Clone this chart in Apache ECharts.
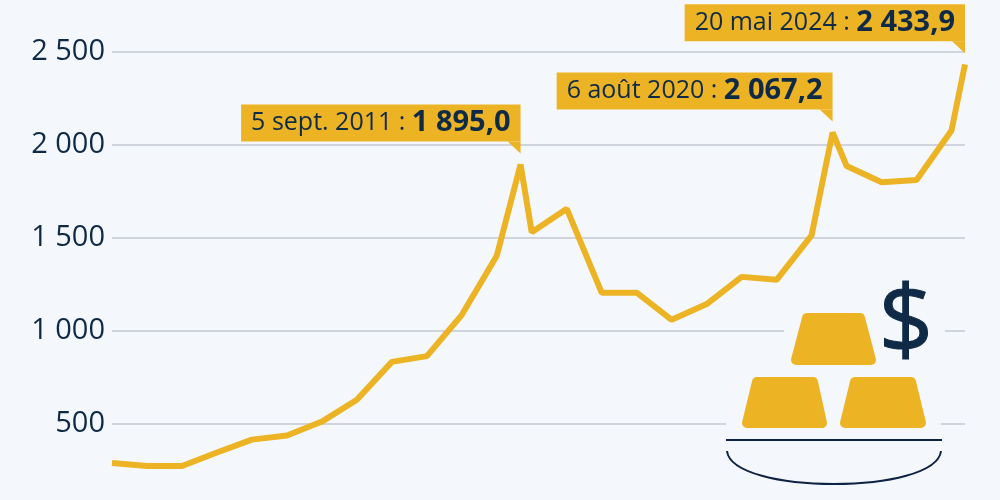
<!DOCTYPE html>
<html><head><meta charset="utf-8">
<style>html,body{margin:0;padding:0;background:#f4f8fc}#c{width:1000px;height:500px}</style>
<script src="https://cdn.jsdelivr.net/npm/echarts@6/dist/echarts.min.js"></script>
</head><body><div id="c"></div>
<script>
const dates = ['1999-12-31','2000-12-31','2001-12-31','2002-12-31','2003-12-31','2004-12-31','2005-12-31','2006-12-31','2007-12-31','2008-12-31','2009-12-31','2010-12-31','2011-09-05','2011-12-31','2012-12-31','2013-12-31','2014-12-31','2015-12-31','2016-12-31','2017-12-31','2018-12-31','2019-12-31','2020-08-06','2020-12-31','2021-12-31','2022-12-31','2023-12-31','2024-05-20'];
const prices = [290,274,274,347,416,438,513,630,834,865,1087,1405,1895,1531,1657,1205,1206,1060,1145,1291,1275,1514,2067.2,1887,1800,1812,2078,2433.9];
const calloutDates = ['2011-09-05','2020-08-06','2024-05-20'];
const calloutPrices = [1895,2067.2,2433.9];
const calloutLabels = ['5 sept. 2011 : ','6 août 2020 : ','20 mai 2024 : '];
const calloutValues = ['1 895,0','2 067,2','2 433,9'];

const FONT='"Open Sans"', NAVY='#0f2a47', GOLD='#ecb424', BG='#f4f8fc';
const bar=(pts)=>({type:'polygon',z:20,shape:{points:pts},style:{fill:GOLD,stroke:GOLD,lineWidth:10,lineJoin:'round'}});
const chart=echarts.init(document.getElementById('c'),null,{renderer:'canvas'});
chart.setOption({
  animation:false,
  backgroundColor:BG,
  grid:{left:112,width:853,top:52,height:465,containLabel:false,outerBoundsMode:'none'},
  xAxis:{type:'time',min:dates[0],max:dates[dates.length-1],show:false},
  yAxis:{type:'value',min:0,max:2500,interval:500,
    axisLine:{show:false},axisTick:{show:false},
    axisLabel:{margin:7,fontFamily:FONT,fontSize:29,color:NAVY,padding:[3,0,0,0],
      formatter:v=>v===0?'':String(v).replace(/\B(?=(\d{3})+$)/g,' ')},
    splitLine:{show:true,lineStyle:{color:'#c4cad3',width:1.5}}},
  series:[
    {type:'line',data:dates.map((d,i)=>[d,prices[i]]),showSymbol:false,symbol:'none',clip:false,z:5,
      lineStyle:{color:GOLD,width:6,join:'bevel',cap:'butt'}},
    {type:'custom',z:10,clip:false,silent:true,
      data:calloutDates.map((d,i)=>[d,calloutPrices[i],i]),
      encode:{x:0,y:1},
      renderItem(params,api){
        const p=api.coord([api.value(0),api.value(1)]);
        const i=params.dataIndex;
        const tipY=p[1]-11, boxBottom=tipY-12;
        return {type:'group',children:[
          {type:'polygon',shape:{points:[[p[0],tipY],[p[0],boxBottom],[p[0]-13,boxBottom]]},style:{fill:GOLD}},
          {type:'text',x:p[0],y:boxBottom,style:{
            text:'{a|'+calloutLabels[i]+'}{b|'+calloutValues[i]+'}',
            align:'right',verticalAlign:'bottom',
            backgroundColor:GOLD,padding:[2,10,2,10],
            rich:{a:{fontFamily:FONT,fontSize:25,fill:NAVY,lineHeight:33},
                  b:{fontFamily:FONT,fontSize:29,fontWeight:'bold',fill:NAVY,lineHeight:33}}}}
        ]};
      }}
  ],
  graphic:[
    {type:'rect',z:15,shape:{x:784,y:326,width:161,height:10},style:{fill:BG}},
    {type:'rect',z:15,shape:{x:726,y:419,width:215,height:10},style:{fill:BG}},
    bar([[807,318],[860,318],[871,360],[796,360]]),
    bar([[757,382],[813,382],[822,423],[747,423]]),
    bar([[855,382],[911,382],[921,423],[845,423]]),
    {type:'text',z:20,x:906,y:326,style:{text:'$',fontFamily:FONT,fontSize:96,fill:NAVY,stroke:NAVY,lineWidth:1,align:'center',verticalAlign:'middle'}},
    {type:'line',z:20,shape:{x1:726,y1:440,x2:942,y2:440},style:{stroke:'#0e2244',lineWidth:2}},
    {type:'bezierCurve',z:20,shape:{x1:727,y1:451,x2:941,y2:451,cpx1:732,cpy1:495,cpx2:936,cpy2:495},style:{fill:'none',stroke:'#0e2244',lineWidth:2}}
  ]
});
</script></body></html>
